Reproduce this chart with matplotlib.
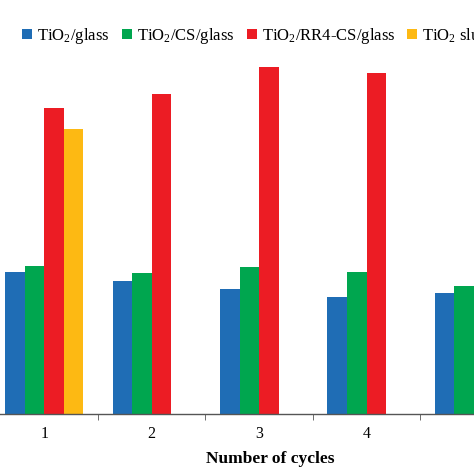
import matplotlib
matplotlib.use("Agg")
import matplotlib.pyplot as plt
import numpy as np

plt.rcParams["font.family"] = ["Liberation Serif", "DejaVu Serif"]
plt.rcParams["mathtext.fontset"] = "custom"
plt.rcParams["mathtext.rm"] = "Liberation Serif"
plt.rcParams["mathtext.it"] = "Liberation Serif:italic"
plt.rcParams["mathtext.bf"] = "Liberation Serif:bold"

# data (arbitrary units)
cycles = [1, 2, 3, 4, 5]
tick_labels = ["1", "2", "3", "4", ""]  # the 5 is cut off in the original
tio2_glass = [14.2, 13.3, 12.5, 11.7, 12.1]
tio2_cs_glass = [14.8, 14.1, 14.7, 14.2, 12.8]
tio2_rr4_cs_glass = [30.6, 32.0, 34.7, 34.1, 0]
tio2_slurry = [28.5, 0, 0, 0, 0]

labels = ["TiO$_2$/glass", "TiO$_2$/CS/glass", "TiO$_2$/RR4-CS/glass", "TiO$_2$ slurry"]
colors = ["#1f6db5", "#00a64f", "#ec1c24", "#fdb913"]
series = [tio2_glass, tio2_cs_glass, tio2_rr4_cs_glass, tio2_slurry]

fig = plt.figure(figsize=(4.74, 4.74), dpi=100)
# axes partly outside the figure, like the cropped original
ax = fig.add_axes([0.0, 60 / 474, 1.0, 414 / 474])

x = np.array(cycles)
w = 0.182
handles = []
for i, (vals, col, lab) in enumerate(zip(series, colors, labels)):
    h = ax.bar(x + (i - 1.5) * w, vals, width=w, color=col, label=lab, linewidth=0)
    handles.append(h)

ax.set_xlim(1 - 44.5 / 108, 1 + 429.5 / 108)
ax.set_ylim(0, 41.4)

for s in ["top", "right", "left"]:
    ax.spines[s].set_visible(False)
ax.spines["bottom"].set_color("#555555")
ax.spines["bottom"].set_linewidth(1.0)
ax.set_yticks([])

ax.set_xticks(cycles)
ax.set_xticklabels(tick_labels, fontsize=11.5)
ax.tick_params(axis="x", which="major", length=0, pad=9)
ax.set_xticks(np.array(cycles[:-1]) + 0.5, minor=True)
ax.tick_params(axis="x", which="minor", length=4, direction="out", color="#555555")

ax.set_xlabel("Number of cycles", fontsize=12.5, fontweight="bold")
ax.xaxis.set_label_coords(270 / 474, -37 / 414)

fig.legend(handles=handles, loc="center left", bbox_to_anchor=(0.046, 1 - 36 / 474),
           ncol=4, frameon=False, fontsize=12, handlelength=0.6, handleheight=0.6,
           handletextpad=0.3, columnspacing=0.75, borderaxespad=0, borderpad=0)

fig.savefig("out.png", dpi=100)
